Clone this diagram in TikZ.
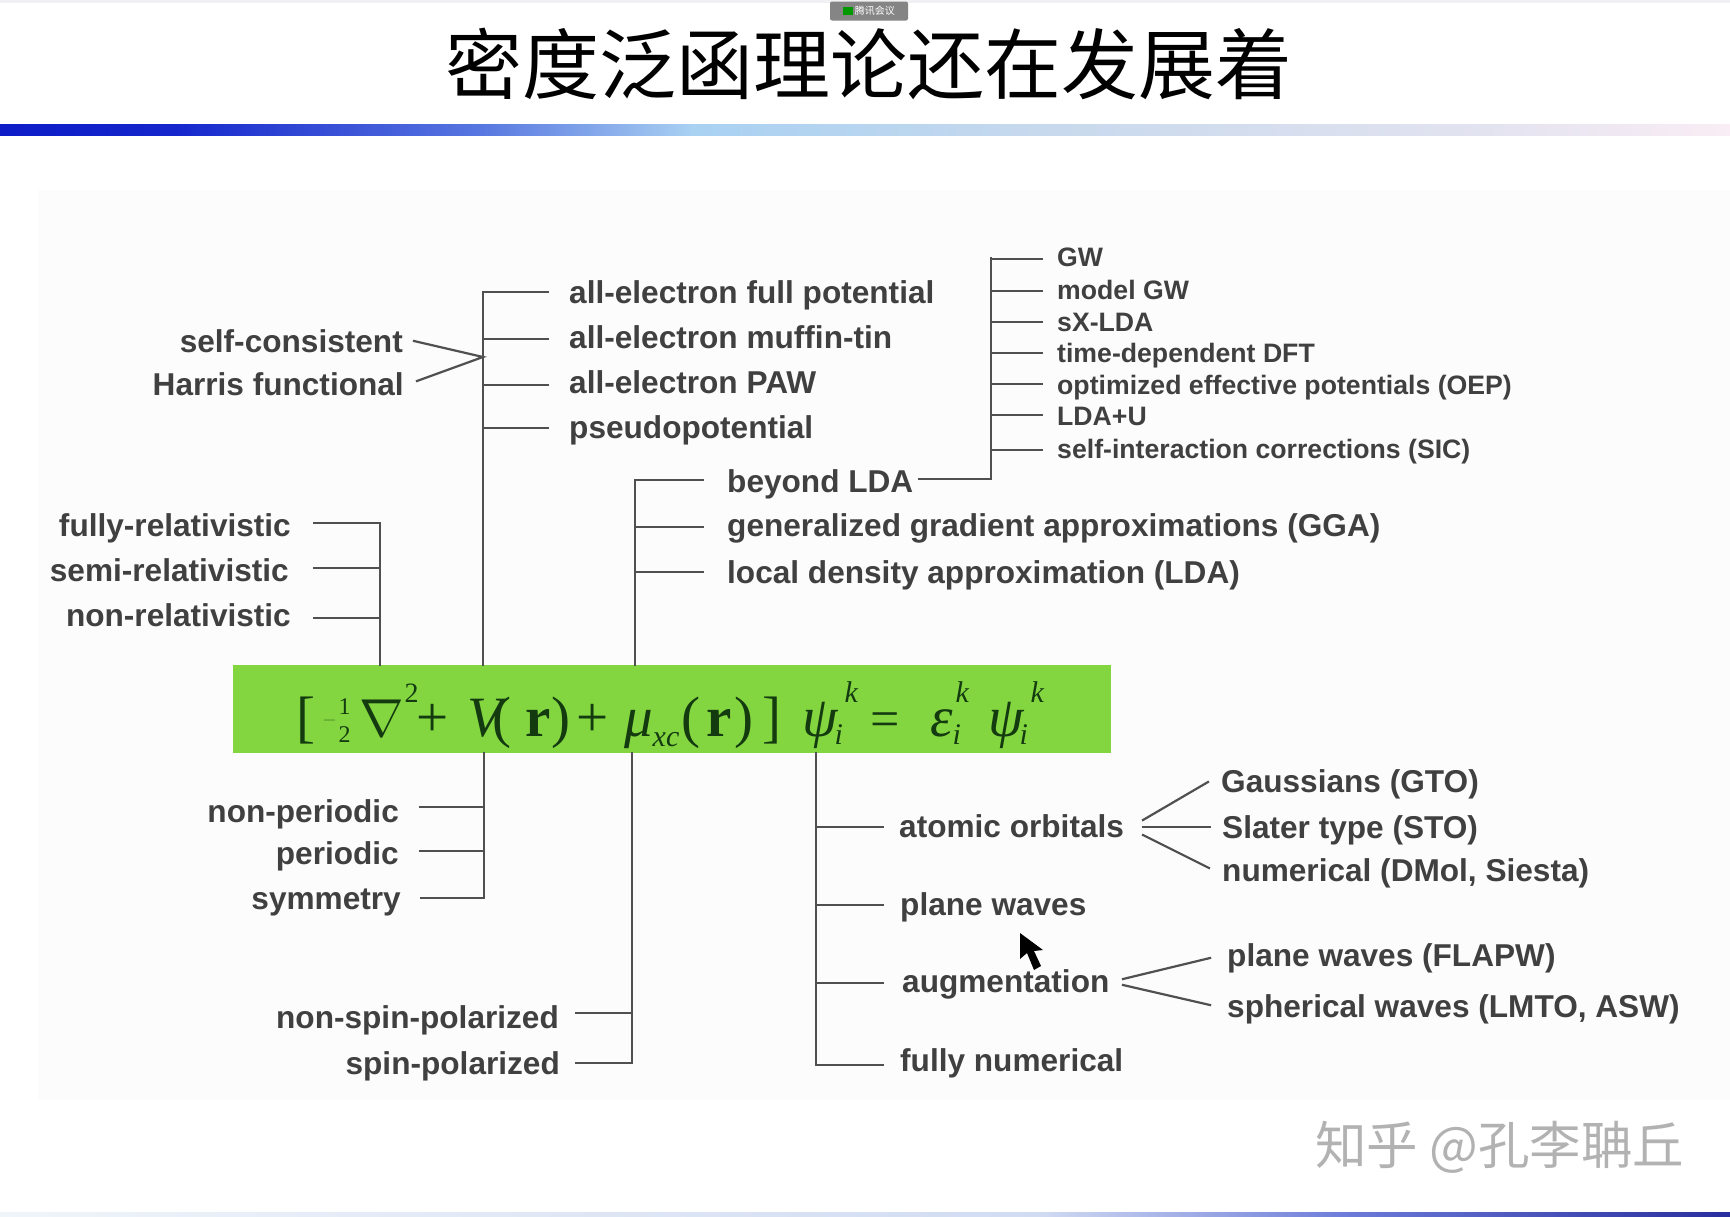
\documentclass[tikz,border=0pt]{standalone}
\usepackage{fontspec}
\usepackage{graphicx}
\setmainfont{Liberation Serif}
\newfontfamily\lblfont{Liberation Sans}
\newfontfamily\cjkfont{Noto Sans CJK SC}
\newcommand{\eqat}[2]{\makebox[0pt][l]{\hspace{#1pt}#2}}
\newcommand{\raiseat}[3]{\makebox[0pt][l]{\hspace{#1pt}\raisebox{#2pt}{#3}}}
\definecolor{txt}{HTML}{404040}
\definecolor{conn}{HTML}{505050}
\definecolor{eqgreen}{HTML}{83D640}
\definecolor{eqink}{HTML}{143A10}
\definecolor{panel}{HTML}{FCFCFD}
\pgfdeclarehorizontalshading{barshade}{100bp}{
  rgb(0bp)=(0.05,0.11,0.78);
  rgb(25bp)=(0.05,0.11,0.78);
  rgb(30bp)=(0.08,0.15,0.80);
  rgb(39bp)=(0.35,0.47,0.88);
  rgb(45bp)=(0.66,0.82,0.95);
  rgb(55bp)=(0.78,0.85,0.93);
  rgb(68bp)=(0.89,0.89,0.94);
  rgb(75bp)=(0.98,0.93,0.96);
  rgb(100bp)=(0.98,0.93,0.96)}
\pgfdeclarehorizontalshading{footshade}{100bp}{
  rgb(0bp)=(0.94,0.96,0.98);
  rgb(25bp)=(0.94,0.96,0.98);
  rgb(55bp)=(0.82,0.86,0.95);
  rgb(64bp)=(0.42,0.48,0.85);
  rgb(75bp)=(0.16,0.18,0.62);
  rgb(100bp)=(0.16,0.18,0.62)}
\tikzset{
  lab/.style={font=\lblfont\bfseries\fontsize{31.6}{36}\selectfont, text=txt, inner sep=0pt, yshift=-11.5pt},
  labl/.style={lab, anchor=base west},
  labr/.style={lab, anchor=base east},
  small/.style={labl, font=\lblfont\bfseries\fontsize{26.65}{32}\selectfont, yshift=2pt},
  cline/.style={draw=conn, line width=2.2pt, line cap=rect, line join=miter},
}
% horizontal branch: name, x, y, trunk coordinate
\newcommand{\hb}[4]{\coordinate (#1) at (#2,#3); \draw[cline] (#1) -- (#1 -| #4);}
\begin{document}
\begin{tikzpicture}[x=1pt,y=-1pt]
\useasboundingbox (0,0) rectangle (1730,1216);
\fill[white] (0,0) rectangle (1730,1216);
\fill[panel] (38,190) rectangle (1730,1100);
\fill[blue!6!gray!10!white] (0,0) rectangle (1730,3);
% header
\node[inner sep=0pt, font=\cjkfont\fontsize{77}{80}\selectfont, text=black] (title) at (869,64) {密度泛函理论还在发展着};
\shade[shading=barshade] (0,124) rectangle (1730,135);
\node[rounded corners=2pt, fill=black!48, minimum width=78pt, minimum height=19pt, inner sep=0pt, font=\cjkfont\fontsize{10}{10}\selectfont, text=white] (badge) at (869,11) {\textcolor{green!60!black}{\rule{10pt}{8pt}}\,腾讯会议};
\shade[shading=footshade] (0,1212) rectangle (1730,1216);
% green box
\node[fill=eqgreen, minimum width=878pt, minimum height=88pt, inner sep=0pt, anchor=north west] (eqbox) at (233,665) {};
% trunk coordinates
\coordinate (tA) at (380,523);
\coordinate (tB) at (483,292);
\coordinate (tC) at (635,480);
\coordinate (tD) at (484,898);
\coordinate (tE) at (632,1063);
\coordinate (tF) at (816,1065);
\coordinate (tG) at (991,258);
\coordinate (tGb) at (991,478);
\draw[cline] (tA) -- (tA |- eqbox.north);
\draw[cline] (tB) -- (tB |- eqbox.north);
\draw[cline] (tC) -- (tC |- eqbox.north);
\draw[cline] (tD) -- (tD |- eqbox.south);
\draw[cline] (tE) -- (tE |- eqbox.south);
\draw[cline] (tF) -- (tF |- eqbox.south);
\draw[cline] (tG) -- (tGb);
% left top
\node[labr] (selfc) at (403,341) {self-consistent};
\node[labr] (harris) at (404,384) {Harris functional};
\coordinate (fanA) at (483,357);
\coordinate (s1) at (414,341);
\coordinate (s2) at (417,381);
\draw[cline] (s1) -- (fanA) -- (s2);
\node[labr] (fully) at (291,525) {fully-relativistic};
\node[labr] (semi) at (289,570) {semi-relativistic};
\node[labr] (nonrel) at (291,615) {non-relativistic};
\hb{bfully}{314}{523}{tA}
\hb{bsemi}{314}{568}{tA}
\hb{bnon}{314}{618}{tA}
% all-electron
\node[labl] (aefull) at (569,292) {all-electron full potential};
\node[labl] (aemt) at (569,337) {all-electron muffin-tin};
\node[labl] (aepaw) at (569,382) {all-electron PAW};
\node[labl] (pseudo) at (569,427) {pseudopotential};
\hb{b1}{548}{292}{tB}
\hb{b2}{548}{339}{tB}
\hb{b3}{548}{385}{tB}
\hb{b4}{548}{428}{tB}
% xc
\node[labl] (beyond) at (727,481) {beyond LDA};
\node[labl] (gga) at (727,525) {generalized gradient approximations (GGA)};
\node[labl] (lda) at (727,572) {local density approximation (LDA)};
\hb{c1}{703}{480}{tC}
\hb{c2}{703}{527}{tC}
\hb{c3}{703}{572}{tC}
\hb{cb}{919}{479}{tG}
% beyond
\node[small] (gw) at (1057,257) {GW};
\node[small] (mgw) at (1057,290) {model GW};
\node[small] (sx) at (1057,322) {sX-LDA};
\node[small] (tddft) at (1057,353) {time-dependent DFT};
\node[small] (oep) at (1057,385) {optimized effective potentials (OEP)};
\node[small] (ldau) at (1057,416) {LDA+U};
\node[small] (sic) at (1057,449) {self-interaction corrections (SIC)};
\hb{g1}{1042}{259}{tG}
\hb{g2}{1042}{291}{tG}
\hb{g3}{1042}{322}{tG}
\hb{g4}{1042}{353}{tG}
\hb{g5}{1042}{384}{tG}
\hb{g6}{1042}{415}{tG}
\hb{g7}{1042}{450}{tG}
% lower left
\node[labr] (nonper) at (399,811) {non-periodic};
\node[labr] (per) at (399,853) {periodic};
\node[labr] (sym) at (401,898) {symmetry};
\hb{d1}{420}{807}{tD}
\hb{d2}{420}{851}{tD}
\hb{d3}{421}{898}{tD}
\node[labr] (nsp) at (559,1017) {non-spin-polarized};
\node[labr] (sp) at (560,1063) {spin-polarized};
\hb{e1}{576}{1013}{tE}
\hb{e2}{576}{1063}{tE}
% basis
\node[labl] (atomic) at (899,826) {atomic orbitals};
\node[labl] (pw) at (900,904) {plane waves};
\node[labl] (aug) at (902,981) {augmentation};
\node[labl] (fnum) at (900,1060) {fully numerical};
\hb{f1}{883}{827}{tF}
\hb{f2}{883}{905}{tF}
\hb{f3}{883}{983}{tF}
\hb{f4}{883}{1065}{tF}
\node[labl] (gauss) at (1221,781) {Gaussians (GTO)};
\node[labl] (slater) at (1222,827) {Slater type (STO)};
\node[labl] (numer) at (1222,870) {numerical (DMol, Siesta)};
\coordinate (h0) at (1143,820);
\coordinate (h1) at (1208,782);
\coordinate (h2a) at (1143,827);
\coordinate (h2) at (1210,827);
\coordinate (h3a) at (1143,835);
\coordinate (h3) at (1209,868);
\draw[cline] (h0) -- (h1);
\draw[cline] (h2a) -- (h2);
\draw[cline] (h3a) -- (h3);
\node[labl] (flapw) at (1227,955) {plane waves (FLAPW)};
\node[labl] (lmto) at (1227,1006) {spherical waves (LMTO, ASW)};
\coordinate (i1) at (1123,979);
\coordinate (i1e) at (1210,958);
\coordinate (i2) at (1123,985);
\coordinate (i2e) at (1210,1005);
\draw[cline] (i1) -- (i1e);
\draw[cline] (i2) -- (i2e);
% equation
\node[anchor=base west, inner sep=0pt, text=eqink, font=\fontsize{57}{60}\selectfont] (eq) at (0,736) {%
\eqat{296}{[}%
\raiseat{322}{8}{\textcolor{eqink!35!eqgreen}{\fontsize{24}{24}\selectfont −}}%
\raiseat{338}{22}{\fontsize{24}{24}\selectfont 1}%
\raiseat{338}{-6}{\fontsize{24}{24}\selectfont 2}%
\raiseat{359}{0}{\scalebox{2.15}{$\nabla$}}%
\raiseat{404}{34}{\fontsize{28}{28}\selectfont 2}%
\eqat{416}{+}%
\eqat{467}{\textit{V}}%
\eqat{492}{(}%
\eqat{525}{\textbf{r}}%
\eqat{551}{)}%
\eqat{576}{+}%
\eqat{624}{\textit{μ}}%
\raiseat{652}{-10}{\fontsize{30}{30}\selectfont\textit{xc}}%
\eqat{681}{(}%
\eqat{706}{\textbf{r}}%
\eqat{734}{)}%
\eqat{762}{]}%
\eqat{802}{\textit{ψ}}%
\raiseat{844}{34}{\fontsize{30}{30}\selectfont\textit{k}}%
\raiseat{834}{-8}{\fontsize{30}{30}\selectfont\textit{i}}%
\eqat{870}{\fontsize{52}{52}\selectfont =}%
\eqat{930}{\textit{ε}}%
\raiseat{955}{34}{\fontsize{30}{30}\selectfont\textit{k}}%
\raiseat{952}{-8}{\fontsize{30}{30}\selectfont\textit{i}}%
\eqat{988}{\textit{ψ}}%
\raiseat{1030}{34}{\fontsize{30}{30}\selectfont\textit{k}}%
\raiseat{1019}{-8}{\fontsize{30}{30}\selectfont\textit{i}}%
};
% pointer
\fill[black] (1020,933) -- (1020,959) -- (1027,953) -- (1034,970) -- (1041,966) -- (1034,951) -- (1043,950) -- cycle;
% watermark
\node[anchor=west, inner sep=0pt, text=black!30, font=\cjkfont\fontsize{51.5}{54}\selectfont] (wm) at (1315,1147) {知乎 @孔李聃丘};
\end{tikzpicture}
\end{document}
